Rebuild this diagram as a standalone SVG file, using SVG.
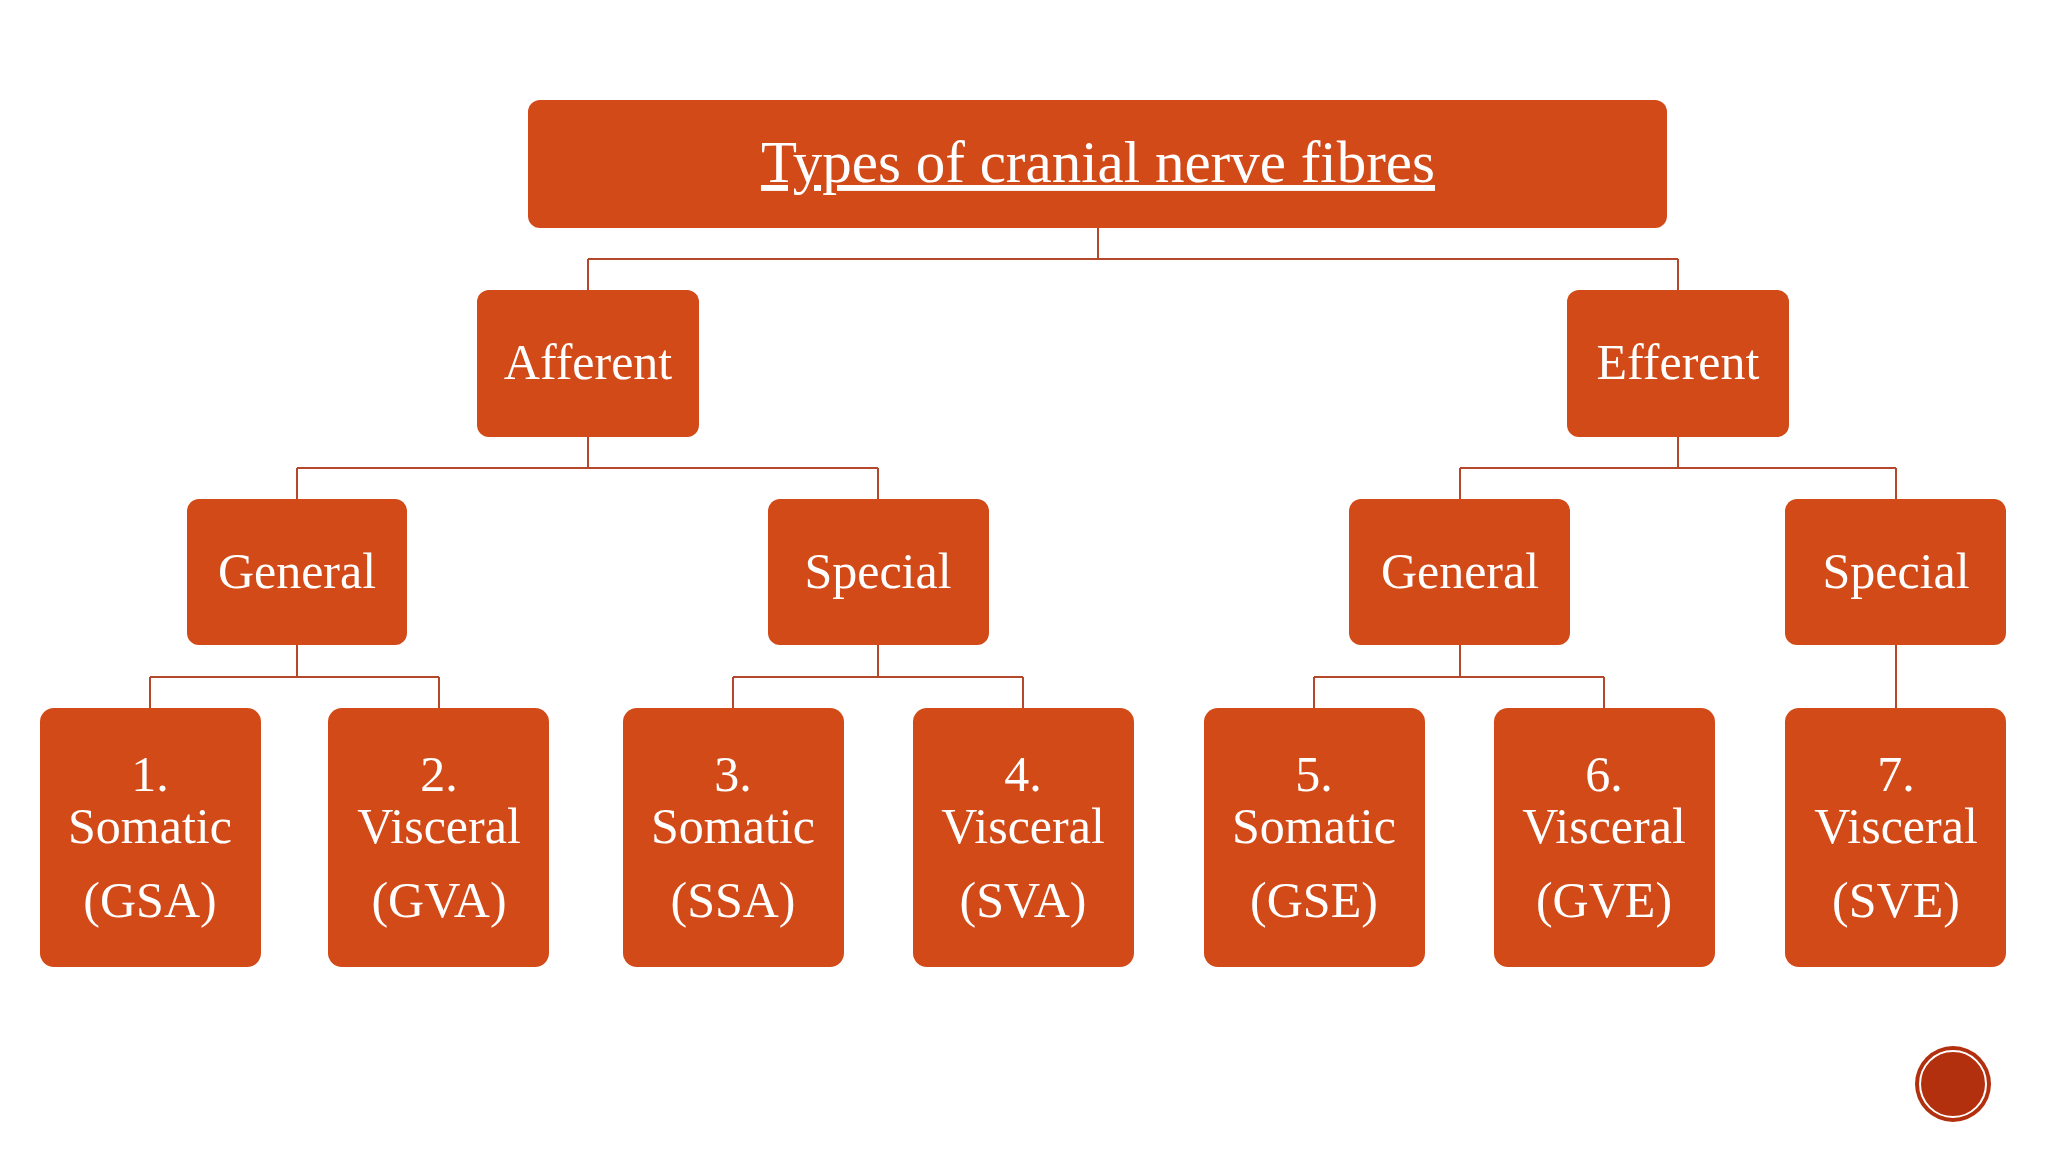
<svg xmlns="http://www.w3.org/2000/svg" width="2048" height="1152" viewBox="0 0 2048 1152">
<style>
.box{fill:#D24A18;}
.t{font-family:"Liberation Serif","Times New Roman",serif;fill:#ffffff;text-anchor:middle;font-size:50px;}
.title{font-size:59px;text-decoration:underline;}
.c{fill:none;stroke:#B5482A;stroke-width:2;}
</style>
<rect x="0" y="0" width="2048" height="1152" fill="#ffffff"/>
<g id="connectors">
<path class="c" d="M1098 228 V259 M588 259 H1678 M588 259 V290 M1678 259 V290"/>
<path class="c" d="M588 437 V468 M297 468 H878 M297 468 V499 M878 468 V499"/>
<path class="c" d="M1678 437 V468 M1460 468 H1896 M1460 468 V499 M1896 468 V499"/>
<path class="c" d="M297 645 V677 M150 677 H439 M150 677 V708 M439 677 V708"/>
<path class="c" d="M878 645 V677 M733 677 H1023 M733 677 V708 M1023 677 V708"/>
<path class="c" d="M1460 645 V677 M1314 677 H1604 M1314 677 V708 M1604 677 V708"/>
<path class="c" d="M1896 645 V708"/>
</g>
<g id="title">
<rect class="box" x="528" y="100" width="1139" height="128" rx="12"/>
<text class="t title" x="1098" y="182">Types of cranial nerve fibres</text>
</g>
<g id="afferent">
<rect class="box" x="477" y="290" width="222" height="147" rx="12"/>
<text class="t" x="588" y="379">Afferent</text>
</g>
<g id="efferent">
<rect class="box" x="1567" y="290" width="222" height="147" rx="12"/>
<text class="t" x="1678" y="379">Efferent</text>
</g>
<g id="general-aff">
<rect class="box" x="187" y="499" width="220" height="146" rx="12"/>
<text class="t" x="297" y="588">General</text>
</g>
<g id="special-aff">
<rect class="box" x="768" y="499" width="221" height="146" rx="12"/>
<text class="t" x="878" y="588">Special</text>
</g>
<g id="general-eff">
<rect class="box" x="1349" y="499" width="221" height="146" rx="12"/>
<text class="t" x="1460" y="588">General</text>
</g>
<g id="special-eff">
<rect class="box" x="1785" y="499" width="221" height="146" rx="12"/>
<text class="t" x="1896" y="588">Special</text>
</g>
<g id="gsa">
<rect class="box" x="40" y="708" width="221" height="259" rx="14"/>
<text class="t" x="150" y="791">1.</text>
<text class="t" x="150" y="843">Somatic</text>
<text class="t" x="150" y="917">(GSA)</text>
</g>
<g id="gva">
<rect class="box" x="328" y="708" width="221" height="259" rx="14"/>
<text class="t" x="439" y="791">2.</text>
<text class="t" x="439" y="843">Visceral</text>
<text class="t" x="439" y="917">(GVA)</text>
</g>
<g id="ssa">
<rect class="box" x="623" y="708" width="221" height="259" rx="14"/>
<text class="t" x="733" y="791">3.</text>
<text class="t" x="733" y="843">Somatic</text>
<text class="t" x="733" y="917">(SSA)</text>
</g>
<g id="sva">
<rect class="box" x="913" y="708" width="221" height="259" rx="14"/>
<text class="t" x="1023" y="791">4.</text>
<text class="t" x="1023" y="843">Visceral</text>
<text class="t" x="1023" y="917">(SVA)</text>
</g>
<g id="gse">
<rect class="box" x="1204" y="708" width="221" height="259" rx="14"/>
<text class="t" x="1314" y="791">5.</text>
<text class="t" x="1314" y="843">Somatic</text>
<text class="t" x="1314" y="917">(GSE)</text>
</g>
<g id="gve">
<rect class="box" x="1494" y="708" width="221" height="259" rx="14"/>
<text class="t" x="1604" y="791">6.</text>
<text class="t" x="1604" y="843">Visceral</text>
<text class="t" x="1604" y="917">(GVE)</text>
</g>
<g id="sve">
<rect class="box" x="1785" y="708" width="221" height="259" rx="14"/>
<text class="t" x="1896" y="791">7.</text>
<text class="t" x="1896" y="843">Visceral</text>
<text class="t" x="1896" y="917">(SVE)</text>
</g>
<g id="badge">
<circle cx="1953" cy="1084" r="38" fill="#B3300E"/>
<circle cx="1953" cy="1084" r="33" fill="none" stroke="#ffffff" stroke-width="2"/>
</g>
</svg>
